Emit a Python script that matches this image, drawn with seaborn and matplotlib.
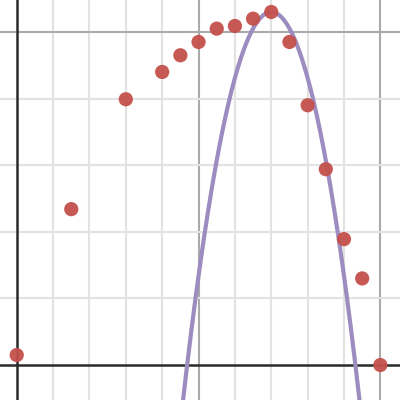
import numpy as np
import pandas as pd
import matplotlib
matplotlib.use("Agg")
import matplotlib.pyplot as plt
import seaborn as sns

# data points
x_vals = [0, 1.5, 3, 4, 4.5, 5, 5.5, 6, 6.5, 7, 7.5, 8, 8.5, 9, 9.5, 10]
y_vals = [0.15, 2.34, 3.99, 4.40, 4.65, 4.85, 5.05, 5.09, 5.20, 5.30,
          4.85, 3.90, 2.94, 1.89, 1.30, 0.0]

# fitted parabola coefficients: y = a*(x-h)^2 + k
coef_a = -0.99
coef_h = 7.0
coef_k = 5.3

sns.set_theme(style="white")

fig = plt.figure(figsize=(4, 4), dpi=100)
ax = fig.add_axes([0, 0, 1, 1])

xmin, xmax = -0.46, 10.54
ymin, ymax = -0.525, 5.48

# grid
for gx in np.arange(1, 11, 1):
    major = (gx % 5 == 0)
    ax.axvline(gx, color="#aaaaaa" if major else "#e2e2e2", lw=1.5, zorder=0)
for gy in np.arange(1, 6, 1):
    major = (gy % 5 == 0)
    ax.axhline(gy, color="#aaaaaa" if major else "#e2e2e2", lw=1.5, zorder=0)
ax.axvline(0, color="#2a2a2a", lw=1.8, zorder=1)
ax.axhline(0, color="#2a2a2a", lw=1.8, zorder=1)

curve_x = np.linspace(xmin, xmax, 600)
curve_df = pd.DataFrame({"x": curve_x, "y": coef_a * (curve_x - coef_h) ** 2 + coef_k})
sns.lineplot(data=curve_df, x="x", y="y", ax=ax, color="#9d8cc0", lw=3, zorder=2)

pts = pd.DataFrame({"x": x_vals, "y": y_vals})
sns.scatterplot(data=pts, x="x", y="y", ax=ax, color="#c4504c", s=105,
                edgecolor="none", alpha=0.95, zorder=3)

ax.set_xlim(xmin, xmax)
ax.set_ylim(ymin, ymax)
ax.set_xticks([])
ax.set_yticks([])
ax.set_xlabel("")
ax.set_ylabel("")
for s in ax.spines.values():
    s.set_visible(False)

fig.savefig("out.png", dpi=100)
